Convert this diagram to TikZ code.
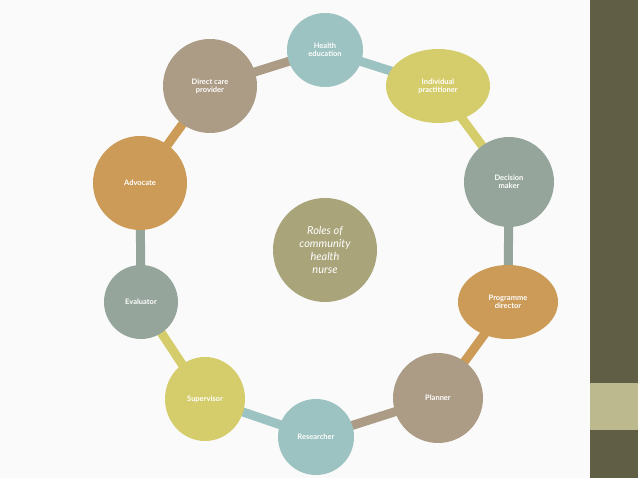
\documentclass[tikz,border=0pt]{standalone}
\usepackage{fontspec}
\setmainfont{Lato}
\usetikzlibrary{shapes.geometric}
\begin{document}
\begin{tikzpicture}[x=1pt,y=-1pt,
  rc/.style={ellipse,fill=#1,text=white,font=\bfseries\fontsize{7.5}{8}\selectfont,align=center,inner sep=0pt},
  lk/.style={line width=9pt,draw=#1}]
\useasboundingbox (0,0) rectangle (638,478);
\fill[white!98!black] (0,0) rectangle (590,478);
\fill[black!60!olive!70!gray] (590,0) rectangle (638,478);
\fill[olive!40!gray!60!white] (590,383) rectangle (638,430);
\definecolor{cT}{HTML}{9CC3C1}
\definecolor{cY}{HTML}{D5CD6B}
\definecolor{cG}{HTML}{95A59B}
\definecolor{cO}{HTML}{CC9B57}
\definecolor{cB}{HTML}{AC9C86}
\definecolor{cC}{HTML}{A9A47A}
\coordinate (h) at (325,50);
\coordinate (i) at (438,86);
\coordinate (d) at (509,182);
\coordinate (p) at (508,302);
\coordinate (pl) at (438,398);
\coordinate (r) at (316,437);
\coordinate (s) at (205,399);
\coordinate (e) at (141,302);
\coordinate (a) at (140,183);
\coordinate (dc) at (210,86);
\draw[lk=cT] (h)--(i);
\draw[lk=cY] (i)--(d);
\draw[lk=cG] (d)--(p);
\draw[lk=cO] (p)--(pl);
\draw[lk=cB] (pl)--(r);
\draw[lk=cT] (r)--(s);
\draw[lk=cY] (s)--(e);
\draw[lk=cG] (e)--(a);
\draw[lk=cO] (a)--(dc);
\draw[lk=cB] (dc)--(h);
\node[rc=cT,minimum width=76,minimum height=74] (nh) at (h) {Health\\education};
\node[rc=cY,minimum width=104,minimum height=74] (ni) at (i) {Individual\\practitioner};
\node[rc=cG,minimum width=90,minimum height=90] (nd) at (d) {Decision\\maker};
\node[rc=cO,minimum width=100,minimum height=74] (np) at (p) {Programme\\director};
\node[rc=cB,minimum width=90,minimum height=90] (npl) at (pl) {Planner};
\node[rc=cT,minimum width=76,minimum height=76] (nr) at (r) {Researcher};
\node[rc=cY,minimum width=80,minimum height=84] (ns) at (s) {Supervisor};
\node[rc=cG,minimum width=74,minimum height=74] (ne) at (e) {Evaluator};
\node[rc=cO,minimum width=94,minimum height=94] (na) at (a) {Advocate};
\node[rc=cB,minimum width=94,minimum height=94] (ndc) at (dc) {Direct care\\provider};
\node[circle,fill=cC,minimum size=104,text=white,font=\itshape\fontsize{11}{13}\selectfont,align=center,inner sep=0pt] (c) at (325,250) {Roles of\\community\\health\\nurse};
\end{tikzpicture}
\end{document}
